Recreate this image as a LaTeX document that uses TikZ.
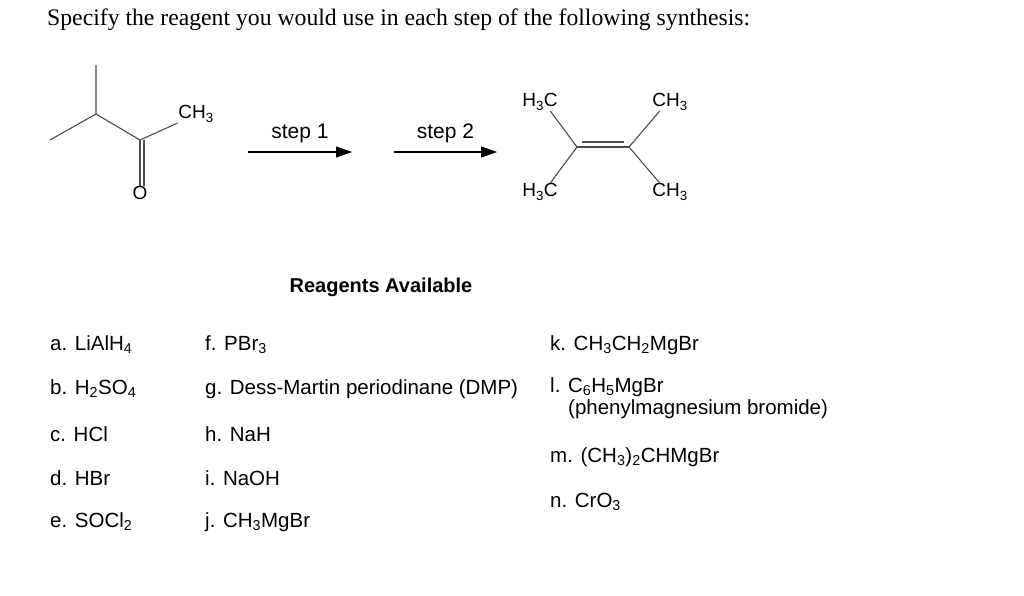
\documentclass[tikz,border=0pt]{standalone}
\usepackage{fontspec}
\setmainfont{Liberation Sans}
\newfontfamily\titlefont{Liberation Serif}
\usetikzlibrary{arrows.meta, positioning}
\newcommand{\sub}[1]{\textsubscript{#1}}

\begin{document}
\begin{tikzpicture}[x=1pt, y=-1pt,
    bond/.style={line width=1.1pt, gray!60!black},
    atom/.style={inner sep=0.5pt, font=\fontsize{19}{21}\selectfont},
    reag/.style={anchor=west, inner sep=0pt, font=\fontsize{20.5}{23}\selectfont},
    rxn arrow/.style={line width=1.2pt, -{Triangle[length=16pt, width=11pt]}}]
    \useasboundingbox (0,0) rectangle (1024,595);

    % Question
    \node[anchor=west, inner sep=0pt, font=\titlefont\fontsize{23.7}{27}\selectfont] (title) at (47,20)
        {Specify the reagent you would use in each step of the following synthesis:};

    % --- Starting ketone ---
    \coordinate (top) at (96,65);
    \coordinate (br) at (96,114);
    \coordinate (me) at (50,140);
    \coordinate (co) at (140,140);
    \node[atom] (O) at (140,193) {O};
    \node[atom] (ch3a) at (196,114) {CH\sub{3}};
    \draw[bond] (top) -- (br) -- (me);
    \draw[bond] (br) -- (co) -- (ch3a.south west);
    \draw[bond] (co) -- (O.north);
    \draw[bond] ([xshift=4pt]co) -- ([xshift=4pt]O.north);

    % --- Reaction arrows ---
    \coordinate (a1) at (248,152);
    \coordinate (b1) at (352,152);
    \coordinate (a2) at (394,152);
    \coordinate (b2) at (497,152);
    \draw[rxn arrow] (a1) -- (b1) node[midway, above=8pt, atom, font=\fontsize{21}{23}\selectfont] (s1) {step 1};
    \draw[rxn arrow] (a2) -- (b2) node[midway, above=8pt, atom, font=\fontsize{21}{23}\selectfont] (s2) {step 2};

    % --- Alkene product ---
    \coordinate (cl) at (577,147);
    \coordinate (cr) at (629,147);
    \node[atom] (tl) at (540,102) {H\sub{3}C};
    \node[atom] (bl) at (540,192) {H\sub{3}C};
    \node[atom] (tr) at (670,102) {CH\sub{3}};
    \node[atom] (brr) at (670,192) {CH\sub{3}};
    \draw[bond] ([xshift=-8pt]tl.south east) -- (cl) -- ([xshift=-8pt]bl.north east);
    \draw[bond] ([xshift=8pt]tr.south west) -- (cr) -- ([xshift=8pt]brr.north west);
    \draw[bond] (cl) -- (cr);
    \draw[bond] ([shift={(5pt,5pt)}]cl) -- ([shift={(-5pt,5pt)}]cr);

    % --- Reagent list ---
    \node[reag, font=\bfseries\fontsize{20}{23}\selectfont, anchor=center] (avail) at (381,287) {Reagents Available};

    \foreach \y/\lbl [count=\i] in {345/a. LiAlH\sub{4}, 389/b. H\sub{2}SO\sub{4}, 434/c. HCl, 478/d. HBr, 522/e. SOCl\sub{2}}
        \node[reag] (ra\i) at (50,\y) {\lbl};
    \foreach \y/\lbl [count=\i] in {345/f. PBr\sub{3}, 389/g. Dess-Martin periodinane (DMP), 434/h. NaH, 478/i. NaOH, 522/j. CH\sub{3}MgBr}
        \node[reag] (rb\i) at (205,\y) {\lbl};
    \node[reag] (rk) at (550,345) {k. CH\sub{3}CH\sub{2}MgBr};
    \node[reag] (rl) at (550,387) {l. C\sub{6}H\sub{5}MgBr};
    \node[reag] (rl2) at (568,409) {(phenylmagnesium bromide)};
    \node[reag] (rm) at (550,457) {m. (CH\sub{3})\sub{2}CHMgBr};
    \node[reag] (rn) at (550,502) {n. CrO\sub{3}};
\end{tikzpicture}
\end{document}
